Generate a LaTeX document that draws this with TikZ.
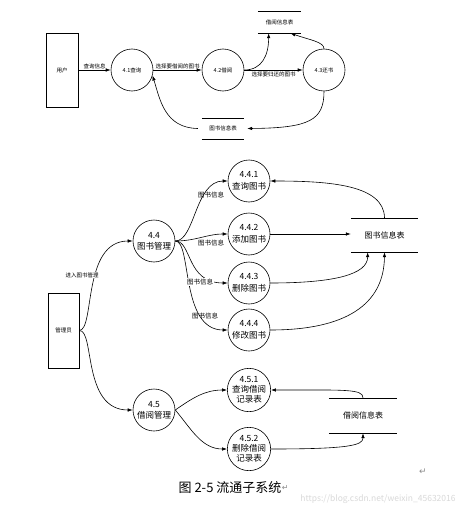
\documentclass[tikz,border=0pt]{standalone}
\usepackage{fontspec}
\setmainfont{Noto Sans CJK SC}
\newfontfamily\symfont{DejaVu Sans}
\usetikzlibrary{arrows.meta,calc}
\begin{document}
\begin{tikzpicture}[x=1pt,y=-1pt,
  ext/.style={draw, line width=0.6pt, inner sep=0, font=\fontsize{5.5}{6.5}\selectfont},
  proc/.style={draw, circle, line width=0.6pt, minimum size=42pt, inner sep=0, align=center},
  tiny/.style={font=\fontsize{5.5}{6.5}\selectfont},
  lab/.style={font=\fontsize{6.5}{7.5}\selectfont, inner sep=1pt},
  mid/.style={font=\fontsize{8.5}{11}\selectfont},
  storetxt/.style={inner sep=0, font=\fontsize{8}{9}\selectfont},
  storeline/.style={line width=0.6pt},
  flow/.style={line width=0.6pt, -{Latex[length=5pt,width=3.5pt]}}]
\useasboundingbox[fill=white] (0,0) rectangle (474,511);

% ---------- top part ----------
\node[ext, minimum width=32pt, minimum height=74pt] (user) at (62,70) {用户};
\node[proc, tiny] (p41) at (132,70) {4.1查询};
\node[proc, tiny] (p42) at (223,70) {4.2借阅};
\node[proc, tiny] (p43) at (324,70) {4.3还书};
\node[tiny, inner sep=0, minimum width=43pt, minimum height=21pt] (s1) at (279.5,22.5) {借阅信息表};
\draw[storeline] (s1.north west) -- (s1.north east) (s1.south west) -- (s1.south east);
\node[tiny, inner sep=0, minimum width=42pt, minimum height=21pt] (s2) at (223,128.5) {图书信息表};
\draw[storeline] (s2.north west) -- (s2.north east) (s2.south west) -- (s2.south east);

\draw[flow] (user) -- node[above=1pt, tiny, inner sep=0] (l1) {查询信息} (p41);
\draw[flow] (p41) -- node[above=1pt, tiny, inner sep=0] (l2) {选择要借阅的图书} (p42);
\draw[flow] (p42) -- node[below=2pt, tiny, inner sep=0] (l3) {选择要归还的图书} (p43);
\draw[flow] (p42.east) .. controls (262,70) and ($(s1.south west)!0.25!(s1.south east)+(0,22)$) .. ($(s1.south west)!0.25!(s1.south east)$);
\draw[flow] (p43.north) .. controls (324,42) and (310,40) .. ($(s1.south west)!0.75!(s1.south east)$);
\draw[flow] (p43.south) .. controls (324,120) and (310,128) .. ($(s2.east)+(3,0)$);
\draw[flow] ($(s2.west)+(-4,0)$) .. controls (165,128) and (160,100) .. (p41.-15);

% ---------- bottom part ----------
\node[ext, minimum width=31pt, minimum height=75pt] (adm) at (63.5,330.5) {管理员};
\node[proc, mid] (p44) at (154,241) {4.4\\图书管理};
\node[proc, mid] (p45) at (154,410) {4.5\\借阅管理};
\node[proc, mid, font=\fontsize{8.5}{12}\selectfont] (p441) at (249,181) {4.4.1\\查询图书};
\node[proc, mid, font=\fontsize{8.5}{12}\selectfont] (p442) at (249,234) {4.4.2\\添加图书};
\node[proc, mid, font=\fontsize{8.5}{12}\selectfont] (p443) at (249,283) {4.4.3\\删除图书};
\node[proc, mid, font=\fontsize{8.5}{12}\selectfont] (p444) at (249,330) {4.4.4\\修改图书};
\node[proc, mid, font=\fontsize{8.5}{10}\selectfont] (p451) at (249,390) {4.5.1\\查询借阅\\记录表};
\node[proc, mid, font=\fontsize{8.5}{10}\selectfont] (p452) at (249,449) {4.5.2\\删除借阅\\记录表};

\node[storetxt, minimum width=67pt, minimum height=34pt] (s3) at (384.5,235) {图书信息表};
\draw[storeline] (s3.north west) -- (s3.north east) (s3.south west) -- (s3.south east);
\node[storetxt, minimum width=68pt, minimum height=35pt] (s4) at (363,415.5) {借阅信息表};
\draw[storeline] (s4.north west) -- (s4.north east) (s4.south west) -- (s4.south east);

% admin flows
\draw[flow] (adm.east) .. controls (95,330) and (82,241) .. (p44.west);
\draw[flow] (adm.east) .. controls (95,330) and (82,410) .. (p45.west);
\node[tiny, fill=white, inner sep=0.5pt] (l4) at (82,275) {进入图书管理};

% 4.4 flows
\draw[flow] (p44.east) .. controls (195,241) and (195,181) .. (p441.west);
\draw[flow] (p44.east) to[out=0,in=180] (p442.west);
\draw[flow] (p44.east) .. controls (192,241) and (186,283) .. (p443.west);
\draw[flow] (p44.east) .. controls (192,241) and (180,330) .. (p444.west);
\node[lab] (l5) at (211,195) {图书信息};
\node[lab] (l6) at (211,243) {图书信息};
\node[lab, fill=white] (l7) at (200,282) {图书信息};
\node[lab] (l8) at (205,316) {图书信息};

% store flows
\draw[flow] (s3.north) .. controls (384,185) and (330,181) .. (p441.east);
\draw[flow] (p442.east) -- (p442.east -| s3.west);
\draw[flow] (p443.east) .. controls (335,283) and ($(s3.south west)!0.25!(s3.south east)+(0,22)$) .. ($(s3.south west)!0.25!(s3.south east)$);
\draw[flow] (p444.east) .. controls (345,330) and (384,305) .. (s3.south);

% 4.5 flows
\draw[flow] (p45.east) to[out=35,in=180] (p451.west);
\draw[flow] (p45.east) to[out=-50,in=180] (p452.west);
\draw[flow] (s4.north) .. controls ($(s4.north)+(0,-9)$) and (345,390) .. (p451.east);
\draw[flow] (p452.east) .. controls (350,449) and ($(s4.south)+(0,12)$) .. (s4.south);

% caption and marks
\node[font=\fontsize{13}{15}\selectfont, inner sep=0] (cap) at (230,488) {图 2-5 流通子系统};
\node[font=\symfont\fontsize{8}{9}\selectfont, text=black!45, anchor=west, inner sep=0] (ret1) at (cap.east) {↵};
\node[font=\symfont\fontsize{9}{10}\selectfont, text=black!45, inner sep=0] (ret2) at (423,472) {↵};
\node[font=\fontsize{8.5}{9}\selectfont, text=black!15, inner sep=0] (wm) at (378,499) {https://blog.csdn.net/weixin\_45632016};
\end{tikzpicture}
\end{document}
